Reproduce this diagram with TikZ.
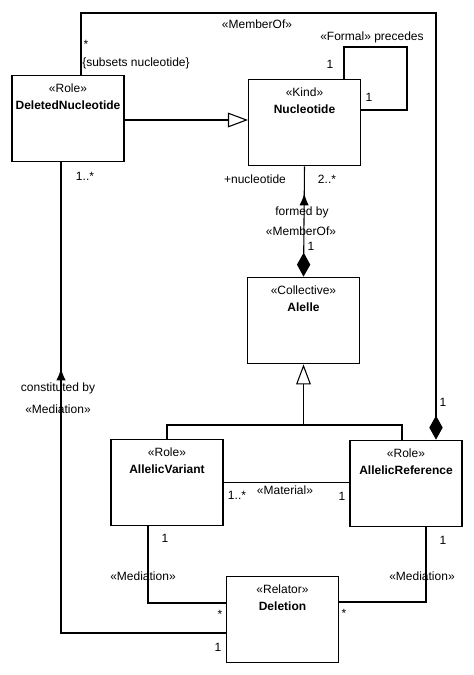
\documentclass[tikz,border=0pt]{standalone}
\usepackage{fontspec}
\setmainfont{Liberation Sans}
\usetikzlibrary{arrows.meta,calc,decorations.markings}
\tikzset{assoc/.style={line width=.8pt},
 generalization/.style={assoc,-{Triangle[open,length=15pt,width=11pt,fill=white]}},
 composite/.style={assoc,-{Diamond[length=18pt,width=10pt]}},
 navup/.style={postaction={decorate},decoration={markings,
  mark=at position #1 with {\arrowreversed{Latex[length=9pt,width=7pt]}}}},
 classbox/.style 2 args={draw,line width=.8pt,minimum width=84pt,minimum height=65pt,
  label={[anchor=north,align=center,inner sep=0pt,yshift=-7pt,
  font=\fontsize{9}{12.4}\selectfont]north:{«#1»\\\textbf{#2}}}},
 every node/.style={font=\fontsize{9}{11}\selectfont,inner sep=0pt}}
\begin{document}
\begin{tikzpicture}[x=0.75pt,y=-0.75pt]
\useasboundingbox (0,0) rectangle (474,675);
% classes
\node[classbox={Role}{DeletedNucleotide}] (delnuc) at (68,118.5) {};
\node[classbox={Kind}{Nucleotide}] (nuc) at (304.5,122.5) {};
\node[classbox={Collective}{Alelle}] (alelle) at (303.5,320.5) {};
\node[classbox={Role}{AllelicVariant}] (avar) at (167,482.5) {};
\node[classbox={Role}{AllelicReference}] (aref) at (406,483.5) {};
\node[classbox={Relator}{Deletion}] (deletion) at (282.5,619.5) {};
% top memberOf
\coordinate (mtop) at (436,13);
\draw[composite] ($(delnuc.north)+(13,0)$) |- (mtop) -- ($(aref.north)+(30,0)$);
\node (lmember) at (257,24) {«MemberOf»};
\node (lstar) at (86,44) {*};
\node[anchor=west] (lsubsets) at (82,63) {\{subsets nucleotide\}};
\node (lrefone) at (443,402) {1};
% precedes
\coordinate (ploop) at (407,47);
\draw[assoc] ($(nuc.north)+(39.5,0)$) |- (ploop) |- ($(nuc.east)+(0,-12.5)$);
\node (lprec) at (372,37) {«Formal» precedes};
\node (lpone) at (330,64) {1};
\node (lptwo) at (369,97) {1};
% generalizations
\draw[generalization] (delnuc.east |- 0,120) -- (nuc.west |- 0,120);
\coordinate (gjoin) at (303.5,425);
\draw[assoc] (avar.north) |- (gjoin) -| ($(aref.north)+(-4,0)$);
\draw[generalization] (gjoin) -- (alelle.south);
% formed by
\draw[composite,navup=20.25pt] (nuc.south) -- (alelle.north);
\node (lnucleotide) at (255,179) {+nucleotide};
\node (lnucmany) at (327,179) {2..*};
\node (lformed) at (302,212) {formed by};
\node (lmember2) at (301,231) {«MemberOf»};
\node (lalone) at (311,246) {1};
% constituted by
\draw[assoc,navup=154.5pt] ($(delnuc.south)+(-7,0)$) |- ($(deletion.west)+(0,13.5)$);
\node (ldelmany) at (85,176) {1..*};
\node (lconst) at (58,388) {constituted by};
\node (lmed1) at (58,409) {«Mediation»};
\node (ldelone) at (218,647) {1};
% material
\draw[assoc] (avar.east) -- (avar.east -| aref.west);
\node (lvarmany) at (237,495) {1..*};
\node (lmaterial) at (285,490) {«Material»};
\node (lrefmat) at (342,496) {1};
% mediations
\draw[assoc] ($(avar.south)+(-19,0)$) |- ($(deletion.west)+(0,-16.5)$);
\node (lvarone) at (165,538) {1};
\node (lmed2) at (143,576) {«Mediation»};
\node (lvarstar) at (220,614) {*};
\draw[assoc] ($(aref.south)+(20,0)$) |- ($(deletion.east)+(0,-17.5)$);
\node (lrefone2) at (443,540) {1};
\node (lmed3) at (422,576) {«Mediation»};
\node (lrefstar) at (344,613) {*};
\end{tikzpicture}
\end{document}
